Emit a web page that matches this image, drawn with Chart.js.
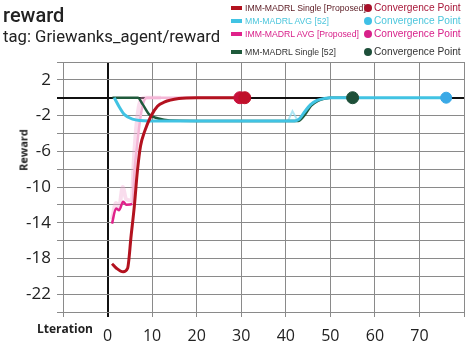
<!DOCTYPE html>
<html>
<head>
<meta charset="utf-8">
<script src="https://cdn.jsdelivr.net/npm/chart.js@4.4.1/dist/chart.umd.min.js"></script>
<style>
  html, body { margin: 0; padding: 0; background: #fff; }
  #wrap { position: relative; width: 474px; height: 342px; overflow: hidden; }
  canvas { position: absolute; left: 0; top: 0; }
  .txt { position: absolute; white-space: nowrap; }
  #title { left: 3px; top: 3px; font: 500 20px Roboto, sans-serif; color: #222; }
  #tag { left: 3px; top: 27px; font: 400 16.7px Roboto, sans-serif; color: #222; }
  .leg { position: absolute; font: 8.7px "Liberation Sans", Arial, sans-serif; white-space: nowrap; line-height: 12px; }
  .sw { position: absolute; width: 11px; height: 4px; }
  .dot { position: absolute; width: 8px; height: 8px; border-radius: 50%; }
  #ytitle { left: 23px; top: 150px; font: bold 11px "Open Sans", sans-serif; color: #222;
            transform: translate(-50%, -50%) rotate(-90deg); }
  #xtitle { left: 37px; top: 320px; font: bold 12px "Open Sans", sans-serif; color: #222; }
</style>
</head>
<body>
<div id="wrap">
  <canvas id="c" width="474" height="342"></canvas>
  <div class="txt" id="title">reward</div>
  <div class="txt" id="tag">tag: Griewanks_agent/reward</div>
  <div class="txt" id="ytitle">Reward</div>
  <div class="txt" id="xtitle">Lteration</div>
  <div id="legend"></div>
</div>
<script>
// series colours
const RED = '#b3121f';
const CYAN = '#41c3e3';
const MAGENTA = '#e0218a';
const GREEN = '#1f5a3b';

// IMM-MADRL Single [Proposed]
const immSingle = [
  [1, -18.6], [2, -19.1], [3.5, -19.5], [4.5, -19.1], [5.3, -15.4], [6, -12.2],
  [6.7, -8.2], [7.4, -5.4], [8.3, -3.8], [9.7, -2.1], [11.2, -0.95], [12.7, -0.5],
  [16, -0.1], [20, 0], [30.8, 0]
];
// IMM-MADRL AVG [Proposed]
const immAvg = [
  [1, -14.1], [1.9, -12.4], [2.6, -12.6], [3.5, -11.65], [4.2, -12], [5.6, -11.9],
  [6.0, -8.5], [6.6, -5.5], [7.3, -2.5], [7.9, -0.8], [8.8, 0], [29.7, 0]
];
// faint raw trace behind IMM-MADRL AVG
const immAvgRaw = [
  [1, -13.6], [1.9, -11.8], [2.6, -12.2], [3.4, -10], [4.2, -11.4], [5.4, -11.5],
  [5.9, -7], [6.5, -3], [7.2, -0.6], [8.2, 0], [12, 0]
];
// MM-MADRL AVG [52]
const mmAvg = [
  [1.5, 0], [2.7, -1.1], [3.8, -1.9], [5.6, -2.4], [9.4, -2.6], [42, -2.6],
  [43, -2.4], [44.2, -1.6], [45.5, -0.8], [47, -0.3], [49, -0.05], [50, 0], [76, 0]
];
// faint raw spike on MM-MADRL AVG
const mmAvgRaw = [[40.5, -2.6], [41.5, -1.5], [42.5, -2.4]];
// MM-MADRL Single [52]
const mmSingle = [
  [1.1, 0], [6.8, 0], [7.9, -0.75], [9.4, -1.9], [11.2, -2.3], [14, -2.55],
  [25, -2.6], [42.8, -2.6], [44.3, -1.9], [45.7, -0.9], [47.2, -0.35],
  [48.8, -0.1], [50, 0], [55, 0]
];
// convergence points
const convRed = [[30.8, 0]];
const convMagenta = [[29.7, 0]];
const convCyan = [[76, 0]];
const convGreen = [[55, 0]];

const xTicks = [0, 10, 20, 30, 40, 50, 60, 70];
const xGrid = [-10, 0, 10, 20, 30, 40, 50, 60, 70, 80];
const yTicks = [2, -2, -6, -10, -14, -18, -22];
const yGrid = [4, 2, 0, -2, -4, -6, -8, -10, -12, -14, -16, -18, -20, -22, -24];

const legendRows = [
  { name: 'IMM-MADRL Single  [Proposed]', color: RED, text: '#5a1a22', conv: '#a8183a', dot: '#a8102a' },
  { name: 'MM-MADRL AVG  [52]', color: CYAN, text: '#4cc6dc', conv: '#4cc6dc', dot: '#3fc0e6' },
  { name: 'IMM-MADRL AVG  [Proposed]', color: MAGENTA, text: '#d8208a', conv: '#d8208a', dot: '#d8208a' },
  { name: 'MM-MADRL Single  [52]', color: GREEN, text: '#333', conv: '#333', dot: '#1e4f3a' }
];
const legendY = [2, 15, 28, 46];

const pts = arr => arr.map(p => ({ x: p[0], y: p[1] }));

const legend = document.getElementById('legend');
legendRows.forEach((r, i) => {
  const y = legendY[i];
  legend.insertAdjacentHTML('beforeend', `
    <div class="sw" style="left:231px;top:${y + 4}px;background:${r.color}"></div>
    <div class="leg" style="left:245px;top:${y}px;color:${r.text}">${r.name}</div>
    <div class="dot" style="left:364px;top:${y + 2}px;background:${r.dot}"></div>
    <div class="leg" style="left:374px;top:${y}px;color:${r.conv};font-size:10.2px">Convergence Point</div>`);
});

function line(label, data, color, width, order, extra) {
  return Object.assign({
    label, data: pts(data), borderColor: color, backgroundColor: color,
    borderWidth: width, pointRadius: 0, fill: false, order,
    cubicInterpolationMode: 'monotone'
  }, extra || {});
}

function dot(label, data, color, r, order) {
  return {
    label, data: pts(data), type: 'scatter', showLine: false,
    pointRadius: r, pointBackgroundColor: color, pointBorderColor: color, order
  };
}

const gridColor = c => c.tick && c.tick.value === 0 ? '#111' : '#8a8a8a';
const gridWidth = c => c.tick && c.tick.value === 0 ? 2 : 1;

new Chart(document.getElementById('c'), {
  type: 'line',
  data: {
    datasets: [
      dot('conv red', convRed, '#c0102a', 6, 0),
      dot('conv magenta', convMagenta, '#c8103a', 6, 1),
      dot('conv cyan', convCyan, '#3aa9e6', 5.5, 0),
      dot('conv green', convGreen, '#1d4f38', 6, 0),
      line('IMM-MADRL Single [Proposed]', immSingle, RED, 3, 2),
      line('MM-MADRL AVG [52]', mmAvg, CYAN, 3, 3),
      line('MM-MADRL Single [52]', mmSingle, GREEN, 2.5, 4),
      line('IMM-MADRL AVG [Proposed]', immAvg, MAGENTA, 2.5, 5, {
        segment: { borderColor: ctx => ctx.p0.parsed.x >= 5.6 ? '#f4b6d6' : MAGENTA }
      }),
      line('raw avg', immAvgRaw, 'rgba(240,170,210,0.4)', 4, 6),
      line('raw cyan', mmAvgRaw, 'rgba(140,220,240,0.7)', 2, 6, { cubicInterpolationMode: 'default', tension: 0 })
    ]
  },
  options: {
    responsive: false,
    animation: false,
    layout: { padding: { top: 62, right: 8, left: 0, bottom: 0 } },
    plugins: { legend: { display: false }, tooltip: { enabled: false } },
    scales: {
      x: {
        type: 'linear', min: -10, max: 80,
        afterFit: s => { s.height = 30; },
        afterBuildTicks: s => { s.ticks = xGrid.map(v => ({ value: v })); },
        ticks: {
          color: '#222', padding: 10, maxRotation: 0, autoSkip: false,
          font: { family: '"Open Sans", sans-serif', size: 16 },
          callback: v => xTicks.includes(v) ? String(v) : ''
        },
        grid: { color: gridColor, lineWidth: gridWidth, tickLength: 5 },
        border: { display: false }
      },
      y: {
        type: 'linear', min: -24, max: 4,
        afterFit: s => { s.width = 63; },
        afterBuildTicks: s => { s.ticks = yGrid.map(v => ({ value: v })); },
        ticks: {
          color: '#222', padding: 6, autoSkip: false,
          font: { family: '"Open Sans", sans-serif', size: 17 },
          callback: v => yTicks.includes(v) ? String(v) : ''
        },
        grid: { color: gridColor, lineWidth: gridWidth, tickLength: 6 },
        border: { display: false }
      }
    }
  }
});
</script>
</body>
</html>
